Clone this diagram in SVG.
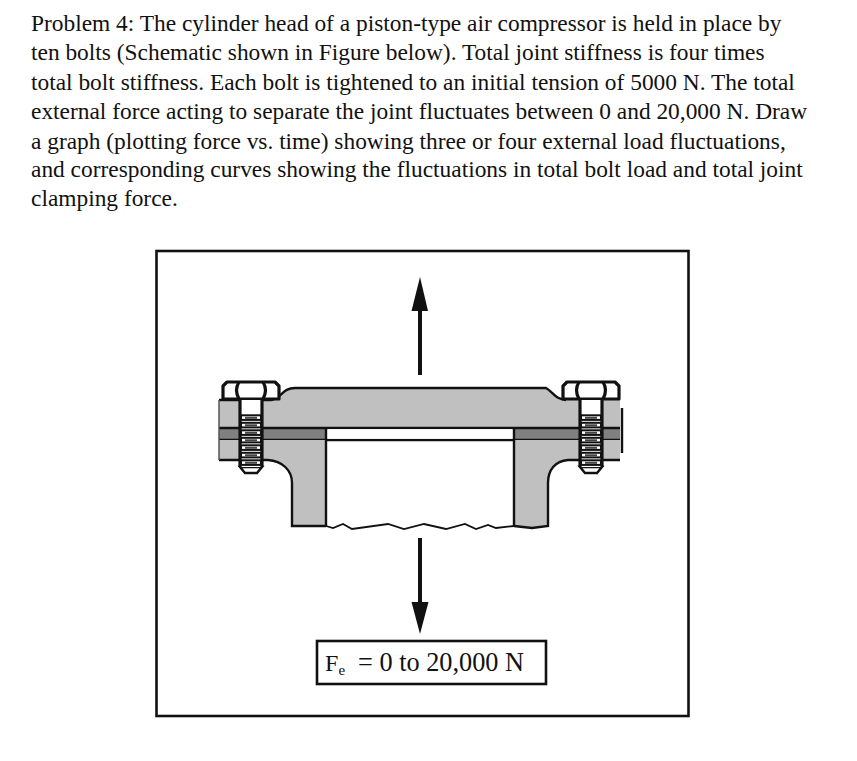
<svg xmlns="http://www.w3.org/2000/svg" width="857" height="761" viewBox="0 0 857 761">
<defs>
<style>
.t{font-family:"Liberation Serif","Times New Roman",serif;font-size:23.4px;fill:#111}
.k{fill:none;stroke:#111;stroke-width:2.4}
.g{fill:#c0c0c0}
.d{fill:#808080}
.thread{fill:#fff;stroke:#111;stroke-width:2}
.core{fill:#444}
.a{fill:#111}
</style>
<g id="bolt">
<path d="M-28 -9V-22L-24 -26H24L28 -22V-9Z" fill="#fff" stroke="#111" stroke-width="3.200" stroke-linejoin="round"/>
<path d="M-12 -26Q-17 -18 -12 -9M12 -26Q17 -18 12 -9" class="k" style="stroke-width:3.200"/>
<path d="M-11 59L-6 65H6L11 59Z" fill="#fff" stroke="#111" stroke-width="2.400"/>
<rect x="-10" y="-8" width="20" height="67" fill="#fff"/>
<path d="M-11 -8V59M11 -8V59" class="k" style="stroke-width:3.200"/>
</g>
<g id="threads">
<rect x="-10" y="7.300" width="20" height="4.600" class="thread"/><rect x="-6" y="8.800" width="12" height="2" class="core"/>
<rect x="-10" y="14.800" width="20" height="4.600" class="thread"/><rect x="-6" y="16.300" width="12" height="2" class="core"/>
<rect x="-10" y="22.300" width="20" height="4.600" class="thread"/><rect x="-6" y="23.800" width="12" height="2" class="core"/>
<rect x="-10" y="29.800" width="20" height="4.600" class="thread"/><rect x="-6" y="31.300" width="12" height="2" class="core"/>
<rect x="-10" y="37.300" width="20" height="4.600" class="thread"/><rect x="-6" y="38.800" width="12" height="2" class="core"/>
<rect x="-10" y="44.800" width="20" height="4.600" class="thread"/><rect x="-6" y="46.300" width="12" height="2" class="core"/>
<rect x="-10" y="52.300" width="20" height="4.600" class="thread"/><rect x="-6" y="53.800" width="12" height="2" class="core"/>
</g>
</defs>
<rect width="857" height="761" fill="#fff"/>
<g id="problem-text">
<text class="t" x="31" y="31">Problem 4: The cylinder head of a piston-type air compressor is held in place by</text>
<text class="t" x="31" y="60">ten bolts (Schematic shown in Figure below). Total joint stiffness is four times</text>
<text class="t" x="31" y="90">total bolt stiffness. Each bolt is tightened to an initial tension of 5000 N. The total</text>
<text class="t" x="31" y="119">external force acting to separate the joint fluctuates between 0 and 20,000 N. Draw</text>
<text class="t" x="31" y="149">a graph (plotting force vs. time) showing three or four external load fluctuations,</text>
<text class="t" x="31" y="177">and corresponding curves showing the fluctuations in total bolt load and total joint</text>
<text class="t" x="31" y="206">clamping force.</text>
</g>
<rect id="frame" x="156.500" y="251" width="532" height="465" fill="none" stroke="#111" stroke-width="2.6"/>
<g id="cylinder-head">
<path class="g" d="M219 400H271C282 398 282 388 295 388H546C553 392 555 399 566 400H620V428H219Z"/>
<path class="k" d="M219 400H271C282 398 282 388 295 388H546C553 392 555 399 566 400"/>
</g>
<g id="gasket">
<rect class="d" x="219" y="428" width="107" height="12"/>
<rect class="d" x="514" y="428" width="106" height="12"/>
<path class="k" d="M219 428H620M219 440H620"/>
<rect x="327.500" y="429.200" width="185" height="9.600" fill="#fff"/>
</g>
<g id="cylinder">
<path class="g" d="M219 440H326V526H292V483C292 468 282 461 268 460H219Z"/>
<path class="g" d="M514 440H620V460H568C555 461 548 470 548 483V526L532 528L514 526Z"/>
<path class="k" d="M219 460H268C282 461 292 470 292 483V526H326M620 460H568C555 461 548 470 548 483V526L532 528L514 526"/>
<path class="k" d="M326 428V526M514 428V526"/>
<path class="k" style="stroke-width:1.800" d="M326 526L333 528L343 524L352 529L388 524L404 529L424 524L446 529L465 524L476 529L488 525L496 528L514 526"/>
<path stroke="#555" stroke-width="1.500" d="M219 400V460"/>
<path class="k" d="M622 408V453"/>
</g>
<g id="bolt-left" transform="translate(251 408)"><use href="#bolt"/><use href="#threads"/></g>
<g id="bolt-right" transform="translate(591 408)"><use href="#bolt"/><use href="#threads"/></g>
<g id="connectors">
<path class="k" style="stroke-width:4" d="M420 375V300"/>
<polygon class="a" points="420,277 428,311 411.500,311"/>
<path class="k" style="stroke-width:4" d="M420 538V606"/>
<polygon class="a" points="420,634 428.500,602 411.500,602"/>
</g>
<g id="force-label">
<rect x="317" y="641" width="229" height="43" fill="#fff" stroke="#111" stroke-width="2.600"/>
<text class="t" x="325" y="671" style="font-size:24px">F</text>
<text class="t" x="338.500" y="675" style="font-size:15px">e</text>
<text class="t" x="358" y="671" style="font-size:26.300px">= 0 to 20,000 N</text>
</g>
</svg>
